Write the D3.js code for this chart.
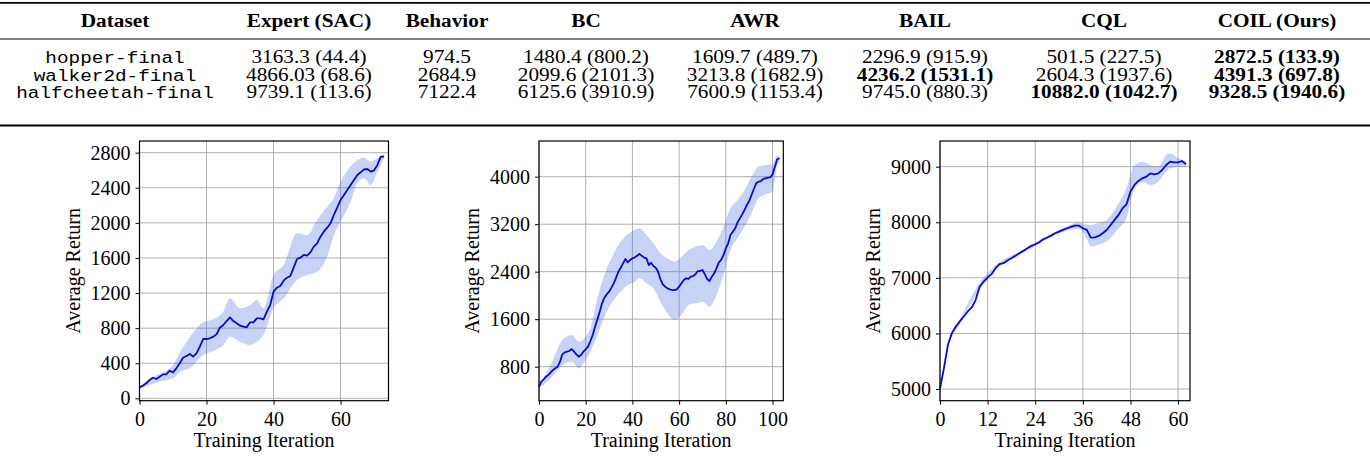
<!doctype html>
<html lang="en">
<head>
  <meta charset="utf-8">
  <title>COIL results</title>
  <style>
    body { margin: 0; background: #fff; }
    svg { display: block; }
    .serif { font-family: "Liberation Serif", "Times New Roman", serif; }
    .mono { font-family: "Liberation Mono", "Courier New", monospace; }
    .tick text { font-family: "Liberation Serif", serif; font-size: 20px; fill: #000; }
    .tick line { stroke: #000; stroke-width: 1; }
    .grid line { stroke: #b0b0b0; stroke-width: 1; }
  </style>
</head>
<body>
  <script src="https://d3js.org/d3.v7.min.js" charset="utf-8"></script>
  <script>

// ---- table data ----
var tableHeader = ["Dataset", "Expert (SAC)", "Behavior", "BC", "AWR", "BAIL", "CQL", "COIL (Ours)"];
var datasets = ["hopper-final", "walker2d-final", "halfcheetah-final"];
var tableValues = [
  ["3163.3 (44.4)", "974.5", "1480.4 (800.2)", "1609.7 (489.7)", "2296.9 (915.9)", "501.5 (227.5)", "2872.5 (133.9)"],
  ["4866.03 (68.6)", "2684.9", "2099.6 (2101.3)", "3213.8 (1682.9)", "4236.2 (1531.1)", "2604.3 (1937.6)", "4391.3 (697.8)"],
  ["9739.1 (113.6)", "7122.4", "6125.6 (3910.9)", "7600.9 (1153.4)", "9745.0 (880.3)", "10882.0 (1042.7)", "9328.5 (1940.6)"]
];
// best results printed in bold: [row, value column]
var boldCells = [[0, 6], [1, 4], [1, 6], [2, 5], [2, 6]];

// ---- curves: mean return per training iteration (index = iteration) ----
var hopperMean = [125, 144, 171, 209, 235, 220, 247, 273, 273, 315, 296, 342, 399, 463, 483, 505, 475, 513, 589, 676,
  676, 684, 703, 730, 805, 836, 881, 923, 881, 855, 828, 817, 809, 866, 866, 912, 912, 900, 988, 1064,
  1216, 1261, 1280, 1341, 1375, 1394, 1489, 1588, 1603, 1634, 1626, 1664, 1729, 1767, 1843, 1900, 1945, 1995, 2090, 2173,
  2261, 2318, 2375, 2432, 2489, 2546, 2576, 2610, 2614, 2584, 2599, 2660, 2755, 2755];
var hopperBandX = [0, 5, 10, 12, 15, 19, 22, 25, 27, 30, 33, 35, 37, 40, 43, 47, 50, 53, 56, 58, 60, 63, 65, 67, 69, 71, 73];
var hopperLo = [105, 180, 228, 300, 342, 494, 540, 608, 703, 646, 608, 646, 722, 1026, 1140, 1349, 1406, 1444, 1615, 1862, 2014, 2242, 2451, 2508, 2432, 2584, 2743];
var hopperHi = [145, 260, 380, 520, 695, 866, 900, 988, 1140, 1026, 1064, 1121, 1026, 1406, 1520, 1881, 1862, 2033, 2185, 2280, 2470, 2641, 2717, 2743, 2698, 2736, 2781];

var walkerMean = [463, 547, 587, 632, 660, 705, 744, 772, 800, 884, 1008, 1041, 1053, 1064, 1098, 1053, 1008, 968, 996, 1053,
  1092, 1137, 1232, 1333, 1474, 1597, 1726, 1867, 1962, 2018, 2063, 2131, 2204, 2299, 2400, 2467, 2540, 2613, 2557, 2597,
  2625, 2642, 2670, 2698, 2670, 2636, 2625, 2512, 2552, 2495, 2467, 2400, 2271, 2187, 2147, 2119, 2102, 2091, 2091, 2102,
  2147, 2204, 2260, 2288, 2277, 2316, 2327, 2355, 2411, 2411, 2428, 2355, 2277, 2243, 2316, 2372, 2456, 2557, 2597, 2681,
  2793, 2877, 3017, 3074, 3130, 3231, 3298, 3366, 3439, 3523, 3590, 3691, 3792, 3888, 3916, 3927, 3961, 3972, 3983, 3989,
  4039, 4168, 4297, 4308];
var walkerBandX = [0, 5, 10, 14, 17, 20, 22, 25, 28, 31, 35, 38, 41, 43, 46, 49, 52, 55, 58, 61, 64, 67, 70, 73, 76, 79, 82, 85, 88, 91, 94, 97, 100, 102, 103];
var walkerLo = [440, 603, 828, 884, 772, 912, 1053, 1333, 1642, 1867, 2063, 2175, 2232, 2288, 2204, 2119, 1895, 1698, 1586, 1670, 1839, 1867, 1895, 1811, 2007, 2344, 2765, 2961, 3158, 3383, 3635, 3703, 3747, 4196, 4253];
var walkerHi = [490, 828, 1249, 1333, 1221, 1305, 1446, 1951, 2344, 2625, 2905, 3029, 3102, 3130, 3017, 2877, 2709, 2625, 2568, 2653, 2765, 2821, 2849, 2765, 2905, 3158, 3467, 3607, 3776, 4000, 4168, 4196, 4208, 4353, 4337];

var cheetahMean = [5006, 5377, 5796, 6006, 6126, 6216, 6305, 6395, 6467, 6605, 6844, 6934, 7006, 7066, 7174, 7246, 7263, 7311, 7353, 7395,
  7443, 7485, 7533, 7575, 7605, 7641, 7695, 7725, 7760, 7802, 7832, 7862, 7892, 7916, 7940, 7940, 7892, 7862, 7725, 7730,
  7754, 7802, 7862, 7952, 8042, 8132, 8251, 8323, 8551, 8671, 8743, 8790, 8820, 8880, 8862, 8880, 8940, 9030, 9090, 9078,
  9078, 9102, 9042];
var cheetahBandX = [0, 2, 5, 10, 15, 20, 25, 30, 35, 37, 38, 40, 42, 45, 47, 49, 51, 53, 55, 57, 58, 60, 62];
var cheetahLo = [4990, 5750, 6170, 6780, 7210, 7415, 7615, 7805, 7890, 7700, 7563, 7600, 7653, 7892, 8072, 8611, 8731, 8671, 8731, 8910, 8970, 9000, 9000];
var cheetahHi = [5020, 5840, 6260, 6910, 7280, 7470, 7670, 7860, 7990, 7960, 7952, 7990, 8042, 8341, 8611, 9030, 9090, 9030, 9000, 9210, 9240, 9150, 9102];

var hopperXTicks = [0, 20, 40, 60];
var hopperYTicks = [0, 400, 800, 1200, 1600, 2000, 2400, 2800];
var walkerXTicks = [0, 20, 40, 60, 80, 100];
var walkerYTicks = [800, 1600, 2400, 3200, 4000];
var cheetahXTicks = [0, 12, 24, 36, 48, 60];
var cheetahYTicks = [5000, 6000, 7000, 8000, 9000];

var xLabel = "Training Iteration";
var yLabel = "Average Return";

// ---- drawing ----
var W = 1370, H = 457;
var svg = d3.select("body").append("svg")
    .attr("width", W)
    .attr("height", H);

// table
var colX = [115, 309, 447, 586, 755, 925, 1104, 1277];
var headerY = 26.7;
var rowY = [63, 80.5, 98];
var sx = 1.12; // the table text is a bit wider than plain Times

function putText(g, str, x, y, cls, size, bold, stretch) {
  g.append("text")
    .attr("class", cls)
    .attr("transform", "translate(" + x + "," + y + ") scale(" + stretch + ",1)")
    .attr("text-anchor", "middle")
    .style("font-size", size + "px")
    .style("font-weight", bold ? "bold" : "normal")
    .text(str);
}

var table = svg.append("g");
table.append("line").attr("x1", 0).attr("x2", W).attr("y1", 2.8).attr("y2", 2.8)
  .attr("stroke", "#000").attr("stroke-width", 1.8);
table.append("line").attr("x1", 0).attr("x2", W).attr("y1", 39).attr("y2", 39)
  .attr("stroke", "#000").attr("stroke-width", 1);
table.append("line").attr("x1", 0).attr("x2", W).attr("y1", 125.5).attr("y2", 125.5)
  .attr("stroke", "#000").attr("stroke-width", 1.8);

tableHeader.forEach(function(h, i) {
  putText(table, h, colX[i], headerY, "serif", 19, true, sx);
});
datasets.forEach(function(d, r) {
  putText(table, d, colX[0], rowY[r], "mono", 17, false, 1.14);
  tableValues[r].forEach(function(v, c) {
    var bold = boldCells.some(function(b) { return b[0] === r && b[1] === c; });
    putText(table, v, colX[c + 1], rowY[r], "serif", 19, bold, sx);
  });
});

// charts
var panels = [
  {mean: hopperMean, bx: hopperBandX, lo: hopperLo, hi: hopperHi, xd: [0, 74.3], yd: [-27, 2933],
   xt: hopperXTicks, yt: hopperYTicks, left: 139.5, right: 388.5},
  {mean: walkerMean, bx: walkerBandX, lo: walkerLo, hi: walkerHi, xd: [0, 104.6], yd: [227, 4601],
   xt: walkerXTicks, yt: walkerYTicks, left: 539, right: 783.3},
  {mean: cheetahMean, bx: cheetahBandX, lo: cheetahLo, hi: cheetahHi, xd: [0, 63.0], yd: [4790, 9462],
   xt: cheetahXTicks, yt: cheetahYTicks, left: 940, right: 1190}
];
var plotTop = 141, plotBottom = 400.7;

panels.forEach(function(p) {
  var x = d3.scaleLinear().domain(p.xd).range([p.left, p.right]);
  var y = d3.scaleLinear().domain(p.yd).range([plotBottom, plotTop]);
  var g = svg.append("g");

  // grid
  var grid = g.append("g").attr("class", "grid");
  grid.selectAll(".gx").data(p.xt).enter().append("line")
    .attr("x1", function(d) { return x(d); }).attr("x2", function(d) { return x(d); })
    .attr("y1", plotTop).attr("y2", plotBottom);
  grid.selectAll(".gy").data(p.yt).enter().append("line")
    .attr("y1", function(d) { return y(d); }).attr("y2", function(d) { return y(d); })
    .attr("x1", p.left).attr("x2", p.right);

  // std band
  var band = d3.area()
    .x(function(d, i) { return x(p.bx[i]); })
    .y0(function(d, i) { return y(p.lo[i]); })
    .y1(function(d, i) { return y(p.hi[i]); })
    .curve(d3.curveMonotoneX);
  g.append("path").datum(p.bx)
    .attr("d", band)
    .attr("fill", "#4169e1")
    .attr("fill-opacity", 0.3);

  // mean
  var line = d3.line()
    .x(function(d, i) { return x(i); })
    .y(function(d) { return y(d); });
  g.append("path").datum(p.mean)
    .attr("d", line)
    .attr("fill", "none")
    .attr("stroke", "#0a0ad0")
    .attr("stroke-width", 1.8)
    .attr("stroke-linejoin", "round");

  // axes
  var ax = g.append("g").attr("transform", "translate(0," + plotBottom + ")")
    .call(d3.axisBottom(x).tickValues(p.xt).tickSize(4).tickPadding(7).tickFormat(d3.format("d")));
  var ay = g.append("g").attr("transform", "translate(" + p.left + ",0)")
    .call(d3.axisLeft(y).tickValues(p.yt).tickSize(4).tickPadding(5).tickFormat(d3.format("d")));
  ax.select(".domain").remove();
  ay.select(".domain").remove();
  ax.attr("font-size", null).attr("font-family", null);
  ay.attr("font-size", null).attr("font-family", null);

  // frame
  g.append("rect")
    .attr("x", p.left).attr("y", plotTop)
    .attr("width", p.right - p.left).attr("height", plotBottom - plotTop)
    .attr("fill", "none").attr("stroke", "#000").attr("stroke-width", 1.2);

  g.append("text").attr("class", "serif")
    .attr("x", (p.left + p.right) / 2).attr("y", 447)
    .attr("text-anchor", "middle").style("font-size", "20px")
    .text(xLabel);
  g.append("text").attr("class", "serif")
    .attr("transform", "translate(" + (p.left - 60) + "," + ((plotTop + plotBottom) / 2) + ") rotate(-90)")
    .attr("text-anchor", "middle").style("font-size", "20px")
    .text(yLabel);
});

  </script>
</body>
</html>
